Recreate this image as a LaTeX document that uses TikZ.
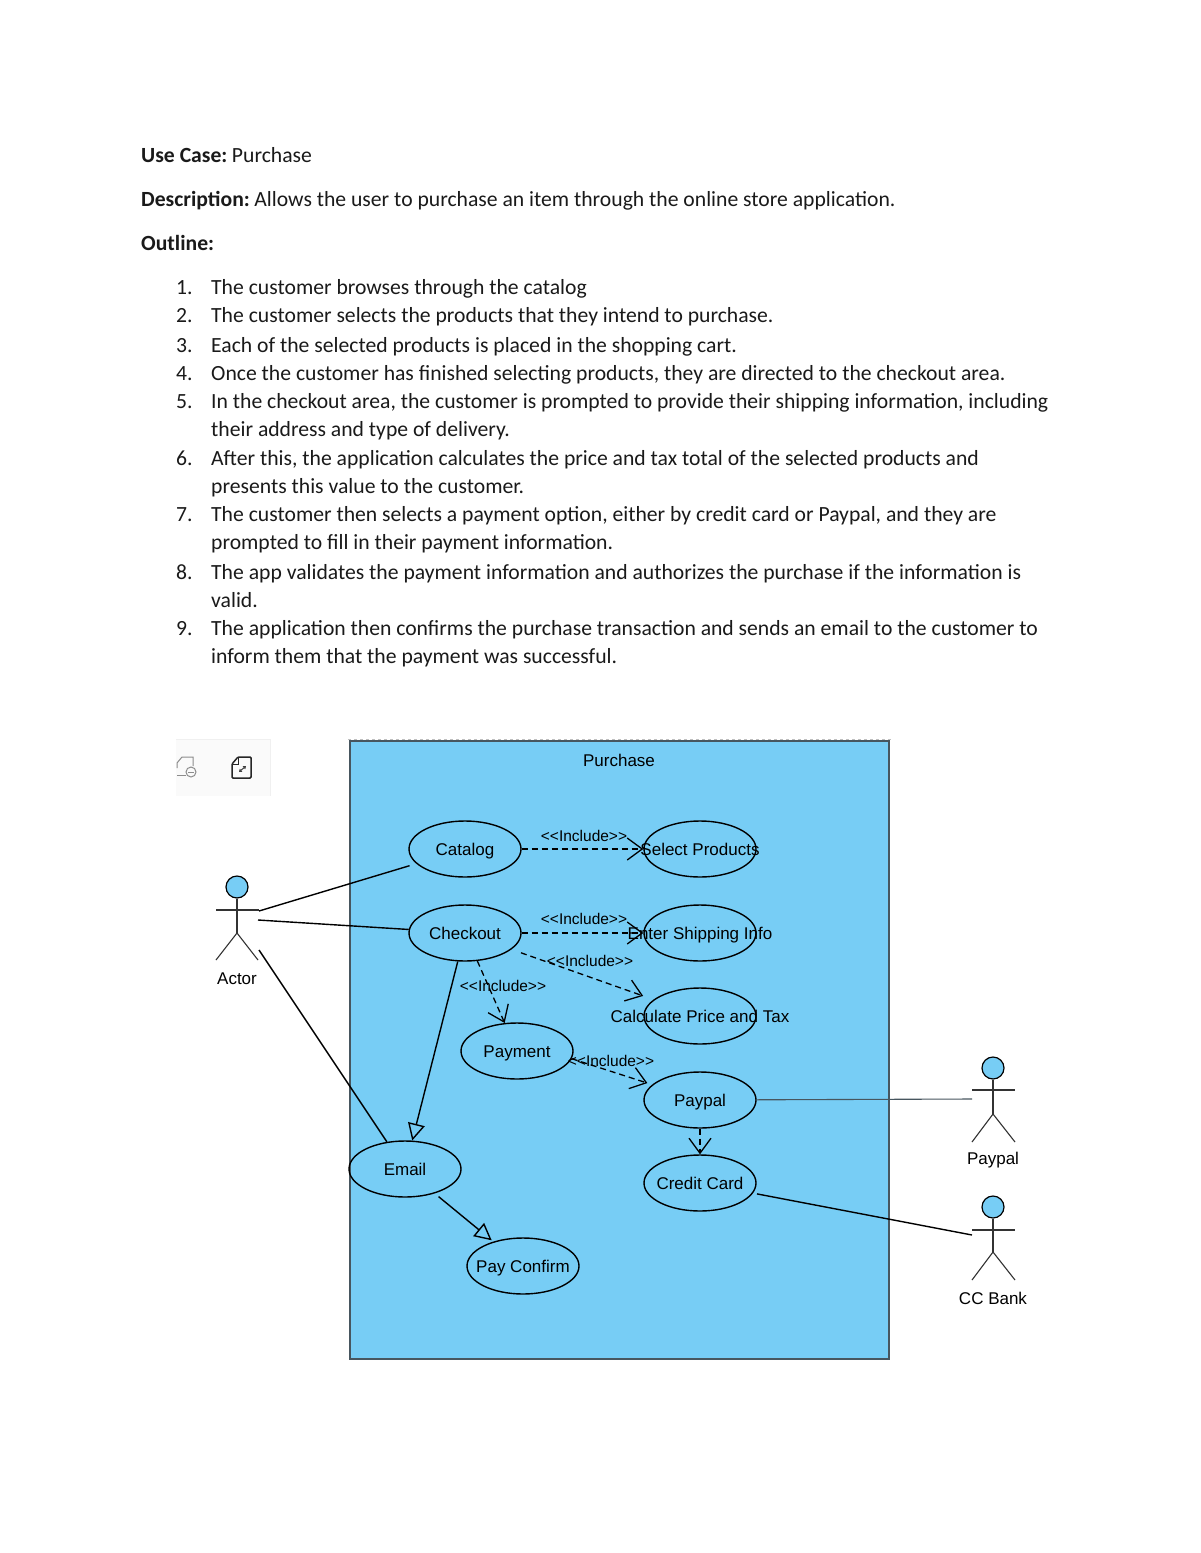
\documentclass[tikz,border=0pt]{standalone}
\usepackage{fontspec}
\setmainfont{Carlito}
\newfontfamily\umlfont{Liberation Sans}
\usetikzlibrary{arrows.meta,shapes.geometric}
\definecolor{sysblue}{HTML}{77CDF5}
\definecolor{sysedge}{HTML}{47565F}
\definecolor{inktext}{HTML}{1A1A1A}
\newcommand{\casetext}[1]{\makebox[0pt]{#1}}
\tikzset{
  bodyline/.style={anchor=base west, inner sep=0pt, text=inktext, font=\fontsize{21.65}{26}\selectfont},
  usecase/.style={draw=black, ellipse, minimum width=112pt, minimum height=56pt, inner sep=0pt, text height=12pt, text depth=0pt, line width=1.4pt, font=\umlfont\fontsize{17}{20}\selectfont},
  includelabel/.style={inner sep=0pt, font=\umlfont\fontsize{15.5}{18}\selectfont},
  actorlabel/.style={inner sep=0pt, font=\umlfont\fontsize{17}{20}\selectfont},
  actorhead/.style={draw=black, circle, fill=sysblue, minimum size=22pt, inner sep=0pt, line width=1.2pt},
  actorline/.style={draw=black!80, line width=1.1pt},
  assoc/.style={draw=black, line width=1.4pt},
  includeline/.style={draw=black, dashed, dash pattern=on 6pt off 4pt, line width=1.3pt, -{Straight Barb[length=15pt,width=22pt]}},
  generalize/.style={draw=black, line width=1.4pt, -{Triangle[open,length=17pt,width=17pt,fill=none]}}
}
\begin{document}
\begin{tikzpicture}[x=1pt, y=-1pt]
  \useasboundingbox (0,0) rectangle (1200,1553);
  \fill[white] (0,0) rectangle (1200,1553);
  % text above the diagram
  \node[bodyline] (TitleLine) at (141,162) {\textbf{Use Case:}\hspace{-2pt} Purchase};
  \node[bodyline] (DescLine) at (141,206) {\textbf{Description:}\hspace{-2pt} Allows the user to purchase an item through the online store application.};
  \node[bodyline] (OutlineLine) at (141,250) {\textbf{Outline:}};
  \node[bodyline] (NumA) at (176,294) {1.};
  \node[bodyline] (ItemA) at (211,294) {The customer browses through the catalog};
  \node[bodyline] (NumB) at (176,322) {2.};
  \node[bodyline] (ItemB) at (211,322) {The customer selects the products that they intend to purchase.};
  \node[bodyline] (NumC) at (176,352) {3.};
  \node[bodyline] (ItemC) at (211,352) {Each of the selected products is placed in the shopping cart.};
  \node[bodyline] (NumD) at (176,380) {4.};
  \node[bodyline] (ItemD) at (211,380) {Once the customer has finished selecting products, they are directed to the checkout area.};
  \node[bodyline] (NumE) at (176,408) {5.};
  \node[bodyline] (ItemE) at (211,408) {In the checkout area, the customer is prompted to provide their shipping information, including};
  \node[bodyline] (ItemEb) at (211,436) {their address and type of delivery.};
  \node[bodyline] (NumF) at (176,465) {6.};
  \node[bodyline] (ItemF) at (211,465) {After this, the application calculates the price and tax total of the selected products and};
  \node[bodyline] (ItemFb) at (211,493) {presents this value to the customer.};
  \node[bodyline] (NumG) at (176,521) {7.};
  \node[bodyline] (ItemG) at (211,521) {The customer then selects a payment option, either by credit card or Paypal, and they are};
  \node[bodyline] (ItemGb) at (211,549) {prompted to fill in their payment information.};
  \node[bodyline] (NumH) at (176,579) {8.};
  \node[bodyline] (ItemH) at (211,579) {The app validates the payment information and authorizes the purchase if the information is};
  \node[bodyline] (ItemHb) at (211,607) {valid.};
  \node[bodyline] (NumI) at (176,635) {9.};
  \node[bodyline] (ItemI) at (211,635) {The application then confirms the purchase transaction and sends an email to the customer to};
  \node[bodyline] (ItemIb) at (211,663) {inform them that the payment was successful.};
  % toolbar scrap
  \fill[black!2] (176,739) rectangle (270,796);
  \draw[black!6, line width=0.8pt] (176,739) -- (270,739) -- (270,796);
  \draw[black!45, line width=1pt] (177,768) -- (177,763) -- (182,757) -- (193,757) -- (193,766);
  \draw[black!45, line width=1pt] (177,775) -- (186,775);
  \draw[black!45, line width=1pt] (191,772) circle (5);
  \draw[black!45, line width=1pt] (188,772) -- (194,772);
  \draw[black!85, line width=1.5pt, rounded corners=1pt] (232,764) -- (238,757) -- (251,757) -- (251,778) -- (232,778) -- cycle;
  \draw[black!85, line width=1pt] (238,757) -- (238,764) -- (232,764);
  \draw[black!75, line width=1pt, {Straight Barb[length=2pt,width=3pt]}-{Straight Barb[length=2pt,width=3pt]}] (239,772) -- (246,766);
  % system box
  \draw[black!25, dashed, line width=0.8pt] (348,739) -- (891,739);
  \draw[fill=sysblue, draw=sysedge, line width=2pt] (350,741) rectangle (889,1359);
  \node[inner sep=0pt, font=\umlfont\fontsize{17}{20}\selectfont] (SystemName) at (619,760) {Purchase};
  % use cases
  \node[usecase] (Catalog) at (465,849) {\casetext{Catalog}};
  \node[usecase] (SelectProducts) at (700,849) {\casetext{Select Products}};
  \node[usecase] (Checkout) at (465,933) {\casetext{Checkout}};
  \node[usecase] (EnterShipping) at (700,933) {\casetext{Enter Shipping Info}};
  \node[usecase] (CalcPrice) at (700,1016) {\casetext{Calculate Price and Tax}};
  \node[usecase] (Payment) at (517,1051) {\casetext{Payment}};
  \node[usecase] (PaypalCase) at (700,1100) {\casetext{Paypal}};
  \node[usecase] (CreditCard) at (700,1183) {\casetext{Credit Card}};
  \node[usecase] (Email) at (405,1169) {\casetext{Email}};
  \node[usecase] (PayConfirm) at (523,1266) {\casetext{Pay Confirm}};
  % actors
  \node[actorhead] (ActorHead) at (237,887) {};
  \draw[actorline] (ActorHead) -- (237,933);
  \draw[actorline] (216,910) -- (259,910);
  \draw[actorline] (216,960) -- (237,933) -- (258,960);
  \node[actorlabel] (ActorName) at (237,979) {Actor};
  \node[actorhead] (PaypalHead) at (993,1068) {};
  \draw[actorline] (PaypalHead) -- (993,1114);
  \draw[actorline] (972,1090) -- (1015,1090);
  \draw[actorline] (972,1142) -- (993,1114) -- (1015,1142);
  \node[actorlabel] (PaypalName) at (993,1160) {Paypal};
  \node[actorhead] (BankHead) at (993,1207) {};
  \draw[actorline] (BankHead) -- (993,1252);
  \draw[actorline] (972,1230) -- (1015,1230);
  \draw[actorline] (972,1280) -- (993,1252) -- (1015,1280);
  \node[actorlabel] (BankName) at (993,1298) {CC Bank};
  \coordinate (ActorA) at (259,911);
  \coordinate (ActorB) at (258,920);
  \coordinate (ActorC) at (259,950);
  \coordinate (PaypalHand) at (972,1099);
  \coordinate (BankHand) at (972,1235);
  % connectors
  \draw[assoc, shorten >=7pt] (ActorA) -- (Catalog);
  \draw[assoc] (ActorB) -- (Checkout);
  \draw[assoc] (ActorC) -- (Email);
  \draw[draw=sysedge, line width=1.1pt] (PaypalCase) -- (PaypalHand);
  \draw[assoc, shorten <=4pt] (CreditCard) -- (BankHand);
  \draw[includeline] (Catalog) -- (SelectProducts);
  \draw[includeline] (Checkout) -- (EnterShipping);
  \draw[includeline, shorten <=10pt, shorten >=11pt] (Checkout) -- (CalcPrice);
  \draw[includeline] (Checkout) -- (Payment);
  \draw[includeline, shorten >=5pt] (Payment.-8) -- (PaypalCase);
  \draw[includeline] (PaypalCase) -- (CreditCard);
  \draw[generalize] (Checkout) -- (Email);
  \draw[generalize, shorten <=5pt, shorten >=2pt] (Email) -- (PayConfirm);
  % include labels
  \node[includelabel] (IncludeA) at (584,836) {<<Include>>};
  \node[includelabel] (IncludeB) at (584,919) {<<Include>>};
  \node[includelabel] (IncludeC) at (590,961) {<<Include>>};
  \node[includelabel] (IncludeD) at (503,986) {<<Include>>};
  \node[includelabel] (IncludeE) at (611,1061) {<<Include>>};
\end{tikzpicture}
\end{document}
